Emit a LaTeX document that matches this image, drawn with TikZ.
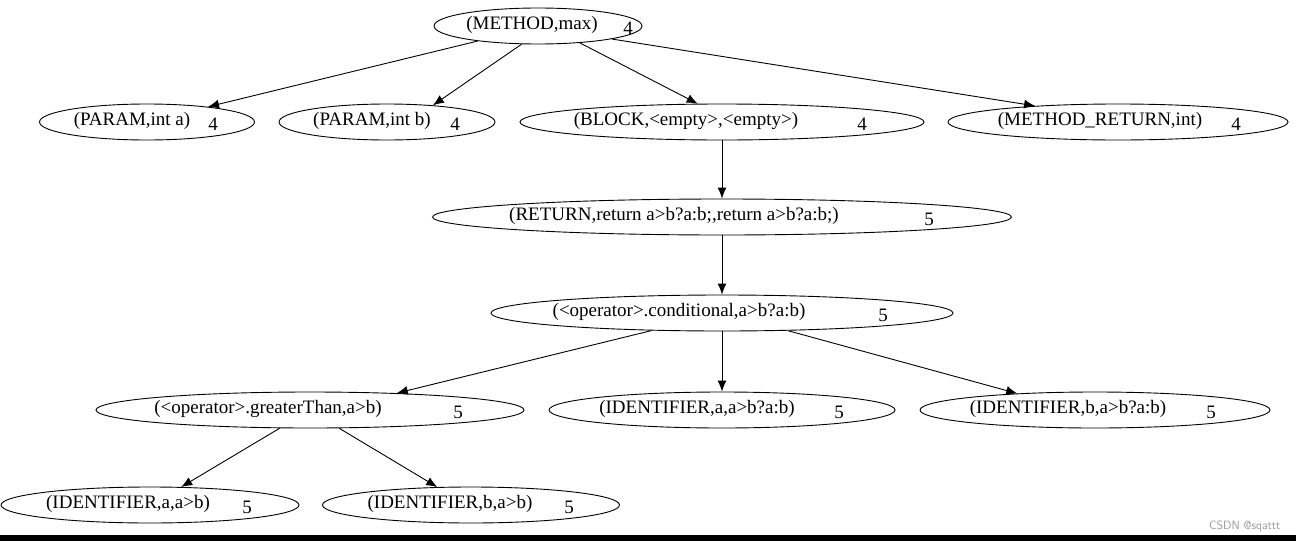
\documentclass[tikz,border=0pt]{standalone}
\usepackage{fontspec}
\setmainfont{Liberation Serif}
\usetikzlibrary{shapes.geometric,arrows.meta}
\begin{document}
\begin{tikzpicture}[x=1pt,y=-1pt,
  el/.style={ellipse,draw,line width=0.9pt,minimum height=36pt,inner sep=0pt},
  lbl/.style={font=\fontsize{19}{22}\selectfont,inner sep=0pt},
  edge/.style={-{Latex[length=11pt,width=9pt]},line width=0.9pt}]
\useasboundingbox (0,0) rectangle (1296,541);
\fill[white] (0,0) rectangle (1296,541);
\fill[black] (0,535) rectangle (1296,541);
\node[el,minimum width=208pt] (m) at (538,26) {};
\node[lbl] (mt) at (532,25) {(METHOD,max)};
\node[lbl] (mn) at (628,28) {4};
\node[el,minimum width=215pt] (p1) at (147,122) {};
\node[lbl] (p1t) at (132,121) {(PARAM,int a)};
\node[lbl] (p1n) at (213,124) {4};
\node[el,minimum width=216pt] (p2) at (387,122) {};
\node[lbl] (p2t) at (372,121) {(PARAM,int b)};
\node[lbl] (p2n) at (455,124) {4};
\node[el,minimum width=404pt] (blk) at (722,122) {};
\node[lbl] (blkt) at (686,121) {(BLOCK,<empty>,<empty>)};
\node[lbl] (blkn) at (862,124) {4};
\node[el,minimum width=340pt] (ret) at (1118,122) {};
\node[lbl] (rett) at (1100,121) {(METHOD\_RETURN,int)};
\node[lbl] (retn) at (1236,124) {4};
\node[el,minimum width=579pt] (r) at (722,217) {};
\node[lbl] (rt) at (674,216) {(RETURN,return a>b?a:b;,return a>b?a:b;)};
\node[lbl] (rn) at (929,219) {5};
\node[el,minimum width=462pt] (c) at (722,313) {};
\node[lbl] (ct) at (679,312) {(<operator>.conditional,a>b?a:b)};
\node[lbl] (cn) at (883,315) {5};
\node[el,minimum width=428pt] (g) at (310,410) {};
\node[lbl] (gt) at (268,409) {(<operator>.greaterThan,a>b)};
\node[lbl] (gn) at (458,412) {5};
\node[el,minimum width=346pt] (ia) at (722,410) {};
\node[lbl] (iat) at (697,409) {(IDENTIFIER,a,a>b?a:b)};
\node[lbl] (ian) at (839,412) {5};
\node[el,minimum width=350pt] (ib) at (1095,410) {};
\node[lbl] (ibt) at (1068,409) {(IDENTIFIER,b,a>b?a:b)};
\node[lbl] (ibn) at (1211,412) {5};
\node[el,minimum width=298pt] (ia2) at (150,505) {};
\node[lbl] (ia2t) at (128,504) {(IDENTIFIER,a,a>b)};
\node[lbl] (ia2n) at (247,507) {5};
\node[el,minimum width=297pt] (ib2) at (471,505) {};
\node[lbl] (ib2t) at (450,504) {(IDENTIFIER,b,a>b)};
\node[lbl] (ib2n) at (569,507) {5};
\node[font=\fontsize{12}{14}\selectfont\sffamily,text=gray!80,anchor=east] (wm) at (1284,526) {CSDN @sqattt};
% connectors
\draw[edge] (m.194) -- (p1.14);
\draw[edge] (m.228) -- (p2.20);
\draw[edge] (m.338) -- (blk.143);
\draw[edge] (m.350) -- (ret.169);
\draw[edge] (blk) -- (r);
\draw[edge] (r) -- (c);
\draw[edge] (c.194) -- (g.11);
\draw[edge] (c) -- (ia);
\draw[edge] (c.345) -- (ib.168);
\draw[edge] (g.211) -- (ia2.30);
\draw[edge] (g.328) -- (ib2.152);
\end{tikzpicture}
\end{document}
